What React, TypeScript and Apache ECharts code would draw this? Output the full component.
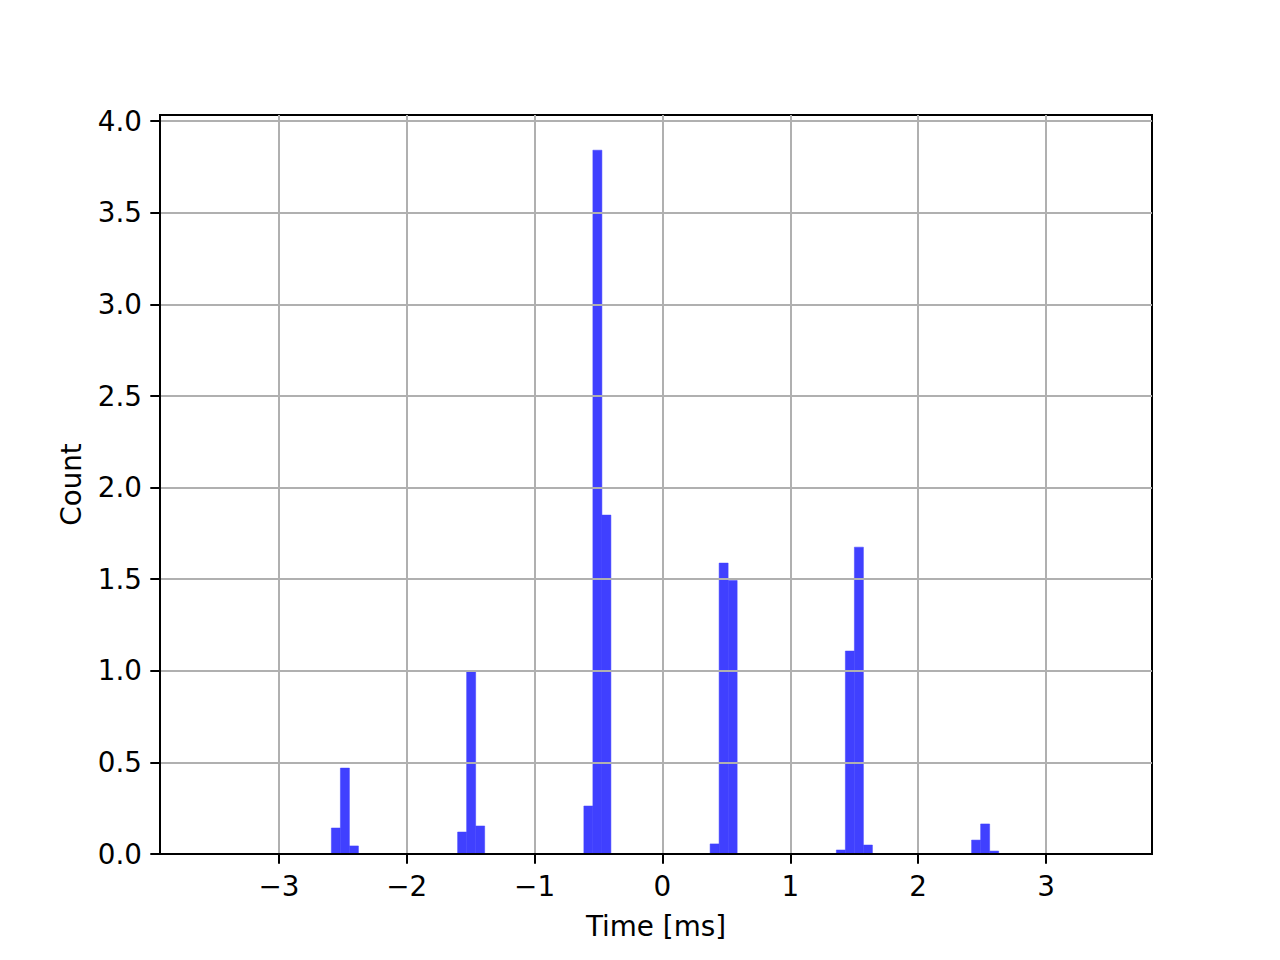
import React, { useEffect, useRef } from "react";
import * as echarts from "echarts";

// Histogram: 100 equal bins starting at binStart, each binWidth wide (ms)
const binStart = -3.577;
const binWidth = 0.07053;
// Only bins with a non-zero count are listed
const binIndex = [14, 15, 16, 28, 29, 30, 42, 43, 44, 56, 57, 58, 70, 71, 72, 73, 85, 86, 87];
const counts = [
  0.142, 0.469, 0.044,
  0.12, 0.993, 0.153,
  0.262, 3.842, 1.85,
  0.055, 1.588, 1.493,
  0.022, 1.108, 1.675, 0.049,
  0.076, 0.164, 0.016,
];

const xTicks = [-3, -2, -1, 0, 1, 2, 3];
const yTicks = [0, 0.5, 1, 1.5, 2, 2.5, 3, 3.5, 4];
const xAxisMin = -3.93;
const xAxisMax = 3.829;
const yAxisMax = 4.034;

const FONT = "DejaVu Sans";
const FS = 27.8;

export default function App() {
  const ref = useRef<HTMLDivElement>(null);
  useEffect(() => {
    if (!ref.current) return;
    const chart = echarts.init(ref.current, undefined, { renderer: "svg" });
    const data = binIndex.map((k, i) => [
      binStart + k * binWidth,
      binStart + (k + 1) * binWidth,
      counts[i],
    ]);
    const minus = (v: number) => (v < 0 ? "\u2212" + Math.abs(v) : String(v));
    chart.setOption({
      animation: false,
      backgroundColor: "#ffffff",
      textStyle: { fontFamily: FONT },
      grid: {
        left: 160,
        right: 128,
        top: 115,
        bottom: 106,
        containLabel: false,
        outerBoundsMode: "none",
        show: true,
        borderColor: "#000",
        borderWidth: 2,
        backgroundColor: "transparent",
      },
      xAxis: {
        type: "value",
        min: xAxisMin,
        max: xAxisMax,
        splitNumber: 8,
        z: 3,
        axisLine: { show: true, onZero: false, lineStyle: { color: "#000", width: 2 } },
        axisTick: {
          show: true,
          customValues: xTicks,
          length: 9.7,
          lineStyle: { color: "#000", width: 2 },
        },
        axisLabel: {
          customValues: xTicks,
          formatter: (v: number) => minus(v),
          color: "#000",
          fontFamily: FONT,
          fontSize: FS,
          margin: 18,
        },
        splitLine: { show: true, lineStyle: { color: "#b0b0b0", width: 2 } },
        name: "Time [ms]",
        nameLocation: "middle",
        nameGap: 58,
        nameTextStyle: { color: "#000", fontFamily: FONT, fontSize: FS },
      },
      yAxis: {
        type: "value",
        min: 0,
        max: yAxisMax,
        interval: 0.5,
        z: 3,
        axisLine: { show: true, onZero: false, lineStyle: { color: "#000", width: 2 } },
        axisTick: {
          show: true,
          customValues: yTicks,
          length: 9.7,
          lineStyle: { color: "#000", width: 2 },
        },
        axisLabel: {
          customValues: yTicks,
          formatter: (v: number) => v.toFixed(1),
          color: "#000",
          fontFamily: FONT,
          fontSize: FS,
          margin: 18,
        },
        splitLine: { show: true, lineStyle: { color: "#b0b0b0", width: 2 } },
        name: "Count",
        nameLocation: "middle",
        nameGap: 75,
        nameTextStyle: { color: "#000", fontFamily: FONT, fontSize: FS },
      },
      series: [
        {
          type: "custom",
          z: 2,
          data,
          encode: { x: [0, 1], y: 2 },
          renderItem: (params: any, api: any) => {
            const p0 = api.coord([api.value(0), api.value(2)]);
            const p1 = api.coord([api.value(1), 0]);
            return {
              type: "rect",
              shape: { x: p0[0], y: p0[1], width: p1[0] - p0[0], height: p1[1] - p0[1] },
              style: { fill: "#4040ff", stroke: "#4040ff", lineWidth: 0.5 },
            };
          },
        },
      ],
    });
    return () => chart.dispose();
  }, []);
  return (
    <div
      ref={ref}
      style={{ position: "fixed", left: 0, top: 0, width: 1280, height: 960, background: "#fff" }}
    />
  );
}
